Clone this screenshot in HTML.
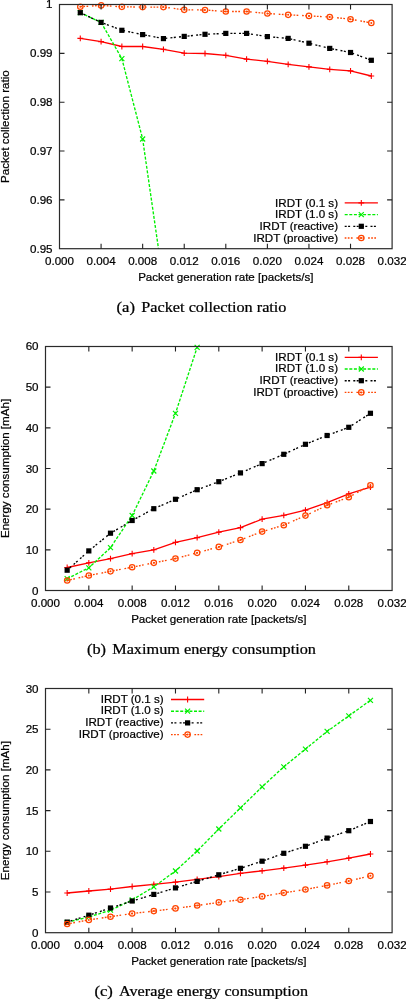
<!DOCTYPE html>
<html lang="en"><head><meta charset="utf-8"><title>IRDT evaluation figures</title>
<style>html,body{margin:0;padding:0;background:#fff}body{width:406px;height:1000px;overflow:hidden}text{fill:#000;stroke:#000;stroke-width:.22px}.cap text{stroke-width:.24px}svg{display:block;font-family:"Liberation Sans",Arial,Helvetica,sans-serif}</style>
</head><body>
<svg width="406" height="1000" viewBox="0 0 406 1000">
<rect width="406" height="1000" fill="#fff"/>
<g id="plot1">
<clipPath id="clip1"><rect x="59.5" y="4.5" width="332.6" height="244.2"/></clipPath>
<g font-size="11.6">
<text x="52.55" y="253" text-anchor="end">0.95</text>
<text x="52.55" y="204" text-anchor="end">0.96</text>
<text x="52.55" y="155" text-anchor="end">0.97</text>
<text x="52.55" y="106" text-anchor="end">0.98</text>
<text x="52.55" y="57" text-anchor="end">0.99</text>
<text x="52.55" y="8" text-anchor="end">1</text>
<text x="59.50" y="265.40" text-anchor="middle">0.000</text>
<text x="101.08" y="265.40" text-anchor="middle">0.004</text>
<text x="142.65" y="265.40" text-anchor="middle">0.008</text>
<text x="184.23" y="265.40" text-anchor="middle">0.012</text>
<text x="225.80" y="265.40" text-anchor="middle">0.016</text>
<text x="267.38" y="265.40" text-anchor="middle">0.020</text>
<text x="308.95" y="265.40" text-anchor="middle">0.024</text>
<text x="350.53" y="265.40" text-anchor="middle">0.028</text>
<text x="392.10" y="265.40" text-anchor="middle">0.032</text>
<text x="225.80" y="281.30" text-anchor="middle">Packet generation rate [packets/s]</text>
<text transform="translate(9.2 126.60) rotate(-90)" text-anchor="middle">Packet collection ratio</text>
</g>
<polyline clip-path="url(#clip1)" points="80.29,38.40 101.08,41.60 121.86,46.50 142.65,46.50 163.44,49.30 184.23,53.20 205.01,53.50 225.80,55.30 246.59,59.10 267.38,61.30 288.16,64.30 308.95,66.90 329.74,69.40 350.53,70.90 371.31,76.00" fill="none" stroke="#ff0000" stroke-width="1.35"/>
<path d="M77.39 38.40H83.19M80.29 35.50V41.30" stroke="#ff0000" stroke-width="1.1" fill="none"/>
<path d="M98.17 41.60H103.98M101.08 38.70V44.50" stroke="#ff0000" stroke-width="1.1" fill="none"/>
<path d="M118.96 46.50H124.76M121.86 43.60V49.40" stroke="#ff0000" stroke-width="1.1" fill="none"/>
<path d="M139.75 46.50H145.55M142.65 43.60V49.40" stroke="#ff0000" stroke-width="1.1" fill="none"/>
<path d="M160.54 49.30H166.34M163.44 46.40V52.20" stroke="#ff0000" stroke-width="1.1" fill="none"/>
<path d="M181.33 53.20H187.13M184.23 50.30V56.10" stroke="#ff0000" stroke-width="1.1" fill="none"/>
<path d="M202.11 53.50H207.91M205.01 50.60V56.40" stroke="#ff0000" stroke-width="1.1" fill="none"/>
<path d="M222.90 55.30H228.70M225.80 52.40V58.20" stroke="#ff0000" stroke-width="1.1" fill="none"/>
<path d="M243.69 59.10H249.49M246.59 56.20V62.00" stroke="#ff0000" stroke-width="1.1" fill="none"/>
<path d="M264.48 61.30H270.27M267.38 58.40V64.20" stroke="#ff0000" stroke-width="1.1" fill="none"/>
<path d="M285.26 64.30H291.06M288.16 61.40V67.20" stroke="#ff0000" stroke-width="1.1" fill="none"/>
<path d="M306.05 66.90H311.85M308.95 64.00V69.80" stroke="#ff0000" stroke-width="1.1" fill="none"/>
<path d="M326.84 69.40H332.64M329.74 66.50V72.30" stroke="#ff0000" stroke-width="1.1" fill="none"/>
<path d="M347.63 70.90H353.43M350.53 68.00V73.80" stroke="#ff0000" stroke-width="1.1" fill="none"/>
<path d="M368.41 76.00H374.21M371.31 73.10V78.90" stroke="#ff0000" stroke-width="1.1" fill="none"/>
<polyline clip-path="url(#clip1)" points="80.29,12.70 101.08,22.40 121.86,58.60 142.65,139.00 163.44,283.00 184.23,400.00 205.01,500.00 225.80,600.00 246.59,700.00 267.38,800.00 288.16,900.00 308.95,1000.00 329.74,1100.00 350.53,1200.00 371.31,1300.00" fill="none" stroke="#00f000" stroke-width="1.35" stroke-dasharray="3.0 1.6"/>
<path d="M77.79 10.20L82.79 15.20M77.79 15.20L82.79 10.20" stroke="#00f000" stroke-width="1.2" fill="none"/>
<path d="M98.58 19.90L103.58 24.90M98.58 24.90L103.58 19.90" stroke="#00f000" stroke-width="1.2" fill="none"/>
<path d="M119.36 56.10L124.36 61.10M119.36 61.10L124.36 56.10" stroke="#00f000" stroke-width="1.2" fill="none"/>
<path d="M140.15 136.50L145.15 141.50M140.15 141.50L145.15 136.50" stroke="#00f000" stroke-width="1.2" fill="none"/>
<polyline clip-path="url(#clip1)" points="80.29,12.70 101.08,22.40 121.86,30.30 142.65,34.60 163.44,38.60 184.23,36.40 205.01,34.30 225.80,33.40 246.59,33.40 267.38,36.60 288.16,38.40 308.95,43.20 329.74,48.40 350.53,52.50 371.31,60.30" fill="none" stroke="#000000" stroke-width="1.35" stroke-dasharray="2 1.4 2 3.2"/>
<rect x="77.69" y="10.10" width="5.2" height="5.2" fill="#000000"/>
<rect x="98.48" y="19.80" width="5.2" height="5.2" fill="#000000"/>
<rect x="119.26" y="27.70" width="5.2" height="5.2" fill="#000000"/>
<rect x="140.05" y="32.00" width="5.2" height="5.2" fill="#000000"/>
<rect x="160.84" y="36.00" width="5.2" height="5.2" fill="#000000"/>
<rect x="181.63" y="33.80" width="5.2" height="5.2" fill="#000000"/>
<rect x="202.41" y="31.70" width="5.2" height="5.2" fill="#000000"/>
<rect x="223.20" y="30.80" width="5.2" height="5.2" fill="#000000"/>
<rect x="243.99" y="30.80" width="5.2" height="5.2" fill="#000000"/>
<rect x="264.77" y="34.00" width="5.2" height="5.2" fill="#000000"/>
<rect x="285.56" y="35.80" width="5.2" height="5.2" fill="#000000"/>
<rect x="306.35" y="40.60" width="5.2" height="5.2" fill="#000000"/>
<rect x="327.14" y="45.80" width="5.2" height="5.2" fill="#000000"/>
<rect x="347.93" y="49.90" width="5.2" height="5.2" fill="#000000"/>
<rect x="368.71" y="57.70" width="5.2" height="5.2" fill="#000000"/>
<polyline clip-path="url(#clip1)" points="80.29,6.70 101.08,5.40 121.86,6.80 142.65,7.10 163.44,7.10 184.23,9.80 205.01,10.00 225.80,11.50 246.59,11.50 267.38,13.50 288.16,14.80 308.95,15.90 329.74,17.00 350.53,19.20 371.31,22.90" fill="none" stroke="#ff4500" stroke-width="1.35" stroke-dasharray="1.7 1.4 1.7 1.4 1.7 3.8"/>
<circle cx="80.29" cy="6.70" r="2.7" stroke="#ff4500" stroke-width="1.25" fill="none"/><circle cx="80.29" cy="6.70" r="1" fill="#ff4500"/>
<circle cx="101.08" cy="5.40" r="2.7" stroke="#ff4500" stroke-width="1.25" fill="none"/><circle cx="101.08" cy="5.40" r="1" fill="#ff4500"/>
<circle cx="121.86" cy="6.80" r="2.7" stroke="#ff4500" stroke-width="1.25" fill="none"/><circle cx="121.86" cy="6.80" r="1" fill="#ff4500"/>
<circle cx="142.65" cy="7.10" r="2.7" stroke="#ff4500" stroke-width="1.25" fill="none"/><circle cx="142.65" cy="7.10" r="1" fill="#ff4500"/>
<circle cx="163.44" cy="7.10" r="2.7" stroke="#ff4500" stroke-width="1.25" fill="none"/><circle cx="163.44" cy="7.10" r="1" fill="#ff4500"/>
<circle cx="184.23" cy="9.80" r="2.7" stroke="#ff4500" stroke-width="1.25" fill="none"/><circle cx="184.23" cy="9.80" r="1" fill="#ff4500"/>
<circle cx="205.01" cy="10.00" r="2.7" stroke="#ff4500" stroke-width="1.25" fill="none"/><circle cx="205.01" cy="10.00" r="1" fill="#ff4500"/>
<circle cx="225.80" cy="11.50" r="2.7" stroke="#ff4500" stroke-width="1.25" fill="none"/><circle cx="225.80" cy="11.50" r="1" fill="#ff4500"/>
<circle cx="246.59" cy="11.50" r="2.7" stroke="#ff4500" stroke-width="1.25" fill="none"/><circle cx="246.59" cy="11.50" r="1" fill="#ff4500"/>
<circle cx="267.38" cy="13.50" r="2.7" stroke="#ff4500" stroke-width="1.25" fill="none"/><circle cx="267.38" cy="13.50" r="1" fill="#ff4500"/>
<circle cx="288.16" cy="14.80" r="2.7" stroke="#ff4500" stroke-width="1.25" fill="none"/><circle cx="288.16" cy="14.80" r="1" fill="#ff4500"/>
<circle cx="308.95" cy="15.90" r="2.7" stroke="#ff4500" stroke-width="1.25" fill="none"/><circle cx="308.95" cy="15.90" r="1" fill="#ff4500"/>
<circle cx="329.74" cy="17.00" r="2.7" stroke="#ff4500" stroke-width="1.25" fill="none"/><circle cx="329.74" cy="17.00" r="1" fill="#ff4500"/>
<circle cx="350.53" cy="19.20" r="2.7" stroke="#ff4500" stroke-width="1.25" fill="none"/><circle cx="350.53" cy="19.20" r="1" fill="#ff4500"/>
<circle cx="371.31" cy="22.90" r="2.7" stroke="#ff4500" stroke-width="1.25" fill="none"/><circle cx="371.31" cy="22.90" r="1" fill="#ff4500"/>
<rect x="59.5" y="4.5" width="332.6" height="244.2" fill="none" stroke="#2a2a2a" stroke-width="1.2"/>
<path d="M101.08 248.7v-5M101.08 4.5v5M142.65 248.7v-5M142.65 4.5v5M184.23 248.7v-5M184.23 4.5v5M225.80 248.7v-5M225.80 4.5v5M267.38 248.7v-5M267.38 4.5v5M308.95 248.7v-5M308.95 4.5v5M350.53 248.7v-5M350.53 4.5v5M59.5 199.86h5M392.1 199.86h-5M59.5 151.02h5M392.1 151.02h-5M59.5 102.18h5M392.1 102.18h-5M59.5 53.34h5M392.1 53.34h-5" stroke="#222" stroke-width="1.1" fill="none"/>
<g font-size="11.6">
<text x="338" y="207" text-anchor="end">IRDT (0.1 s)</text>
<path d="M344.7 202.90h33.2" stroke="#ff0000" stroke-width="1.35" fill="none"/>
<path d="M358.40 202.90H364.20M361.30 200.00V205.80" stroke="#ff0000" stroke-width="1.1" fill="none"/>
<text x="338" y="218" text-anchor="end">IRDT (1.0 s)</text>
<path d="M344.7 214.60h33.2" stroke="#00f000" stroke-width="1.35" fill="none" stroke-dasharray="3.0 1.6"/>
<path d="M358.80 212.10L363.80 217.10M358.80 217.10L363.80 212.10" stroke="#00f000" stroke-width="1.2" fill="none"/>
<text x="338" y="230" text-anchor="end">IRDT (reactive)</text>
<path d="M344.7 226.30h33.2" stroke="#000000" stroke-width="1.35" fill="none" stroke-dasharray="2 1.4 2 3.2"/>
<rect x="358.70" y="223.70" width="5.2" height="5.2" fill="#000000"/>
<text x="338" y="242" text-anchor="end">IRDT (proactive)</text>
<path d="M344.7 238.00h33.2" stroke="#ff4500" stroke-width="1.35" fill="none" stroke-dasharray="1.7 1.4 1.7 1.4 1.7 3.8"/>
<circle cx="361.30" cy="238.00" r="2.7" stroke="#ff4500" stroke-width="1.25" fill="none"/><circle cx="361.30" cy="238.00" r="1" fill="#ff4500"/>
</g>
<g class="cap" font-family="'Liberation Serif','Times New Roman',serif" font-size="15"><text x="116.6" y="312.4" textLength="18.4" lengthAdjust="spacingAndGlyphs">(a)</text><text x="141.3" y="312.4" textLength="145.2" lengthAdjust="spacingAndGlyphs">Packet collection ratio</text></g>
</g>
<g id="plot2">
<clipPath id="clip2"><rect x="45.5" y="346.5" width="346.6" height="244.0"/></clipPath>
<g font-size="11.6">
<text x="38.55" y="595" text-anchor="end">0</text>
<text x="38.55" y="554" text-anchor="end">10</text>
<text x="38.55" y="513" text-anchor="end">20</text>
<text x="38.55" y="473" text-anchor="end">30</text>
<text x="38.55" y="432" text-anchor="end">40</text>
<text x="38.55" y="391" text-anchor="end">50</text>
<text x="38.55" y="350" text-anchor="end">60</text>
<text x="45.50" y="607.20" text-anchor="middle">0.000</text>
<text x="88.83" y="607.20" text-anchor="middle">0.004</text>
<text x="132.15" y="607.20" text-anchor="middle">0.008</text>
<text x="175.48" y="607.20" text-anchor="middle">0.012</text>
<text x="218.80" y="607.20" text-anchor="middle">0.016</text>
<text x="262.12" y="607.20" text-anchor="middle">0.020</text>
<text x="305.45" y="607.20" text-anchor="middle">0.024</text>
<text x="348.78" y="607.20" text-anchor="middle">0.028</text>
<text x="392.10" y="607.20" text-anchor="middle">0.032</text>
<text x="218.80" y="623.10" text-anchor="middle">Packet generation rate [packets/s]</text>
<text transform="translate(9.0 468.50) rotate(-90)" text-anchor="middle">Energy consumption [mAh]</text>
</g>
<polyline clip-path="url(#clip2)" points="67.16,567.50 88.83,562.80 110.49,558.60 132.15,553.60 153.81,549.80 175.48,542.40 197.14,537.60 218.80,532.10 240.46,527.60 262.12,519.20 283.79,515.30 305.45,510.10 327.11,502.70 348.78,493.80 370.44,487.20" fill="none" stroke="#ff0000" stroke-width="1.35"/>
<path d="M64.26 567.50H70.06M67.16 564.60V570.40" stroke="#ff0000" stroke-width="1.1" fill="none"/>
<path d="M85.92 562.80H91.73M88.83 559.90V565.70" stroke="#ff0000" stroke-width="1.1" fill="none"/>
<path d="M107.59 558.60H113.39M110.49 555.70V561.50" stroke="#ff0000" stroke-width="1.1" fill="none"/>
<path d="M129.25 553.60H135.05M132.15 550.70V556.50" stroke="#ff0000" stroke-width="1.1" fill="none"/>
<path d="M150.91 549.80H156.71M153.81 546.90V552.70" stroke="#ff0000" stroke-width="1.1" fill="none"/>
<path d="M172.58 542.40H178.38M175.48 539.50V545.30" stroke="#ff0000" stroke-width="1.1" fill="none"/>
<path d="M194.24 537.60H200.04M197.14 534.70V540.50" stroke="#ff0000" stroke-width="1.1" fill="none"/>
<path d="M215.90 532.10H221.70M218.80 529.20V535.00" stroke="#ff0000" stroke-width="1.1" fill="none"/>
<path d="M237.56 527.60H243.36M240.46 524.70V530.50" stroke="#ff0000" stroke-width="1.1" fill="none"/>
<path d="M259.23 519.20H265.02M262.12 516.30V522.10" stroke="#ff0000" stroke-width="1.1" fill="none"/>
<path d="M280.89 515.30H286.69M283.79 512.40V518.20" stroke="#ff0000" stroke-width="1.1" fill="none"/>
<path d="M302.55 510.10H308.35M305.45 507.20V513.00" stroke="#ff0000" stroke-width="1.1" fill="none"/>
<path d="M324.21 502.70H330.01M327.11 499.80V505.60" stroke="#ff0000" stroke-width="1.1" fill="none"/>
<path d="M345.88 493.80H351.68M348.78 490.90V496.70" stroke="#ff0000" stroke-width="1.1" fill="none"/>
<path d="M367.54 487.20H373.34M370.44 484.30V490.10" stroke="#ff0000" stroke-width="1.1" fill="none"/>
<polyline clip-path="url(#clip2)" points="67.16,578.70 88.83,567.80 110.49,547.70 132.15,515.50 153.81,471.00 175.48,413.30 197.14,347.40 218.80,280.00 240.46,200.00 262.12,100.00 283.79,0.00 305.45,-100.00 327.11,-200.00 348.78,-300.00 370.44,-400.00" fill="none" stroke="#00f000" stroke-width="1.35" stroke-dasharray="3.0 1.6"/>
<path d="M64.66 576.20L69.66 581.20M64.66 581.20L69.66 576.20" stroke="#00f000" stroke-width="1.2" fill="none"/>
<path d="M86.33 565.30L91.33 570.30M86.33 570.30L91.33 565.30" stroke="#00f000" stroke-width="1.2" fill="none"/>
<path d="M107.99 545.20L112.99 550.20M107.99 550.20L112.99 545.20" stroke="#00f000" stroke-width="1.2" fill="none"/>
<path d="M129.65 513.00L134.65 518.00M129.65 518.00L134.65 513.00" stroke="#00f000" stroke-width="1.2" fill="none"/>
<path d="M151.31 468.50L156.31 473.50M151.31 473.50L156.31 468.50" stroke="#00f000" stroke-width="1.2" fill="none"/>
<path d="M172.98 410.80L177.98 415.80M172.98 415.80L177.98 410.80" stroke="#00f000" stroke-width="1.2" fill="none"/>
<path d="M194.64 344.90L199.64 349.90M194.64 349.90L199.64 344.90" stroke="#00f000" stroke-width="1.2" fill="none"/>
<polyline clip-path="url(#clip2)" points="67.16,570.20 88.83,550.90 110.49,533.20 132.15,520.50 153.81,508.70 175.48,499.30 197.14,489.70 218.80,481.70 240.46,472.90 262.12,463.60 283.79,454.30 305.45,444.30 327.11,435.50 348.78,427.30 370.44,413.30" fill="none" stroke="#000000" stroke-width="1.35" stroke-dasharray="2 1.4 2 3.2"/>
<rect x="64.56" y="567.60" width="5.2" height="5.2" fill="#000000"/>
<rect x="86.23" y="548.30" width="5.2" height="5.2" fill="#000000"/>
<rect x="107.89" y="530.60" width="5.2" height="5.2" fill="#000000"/>
<rect x="129.55" y="517.90" width="5.2" height="5.2" fill="#000000"/>
<rect x="151.21" y="506.10" width="5.2" height="5.2" fill="#000000"/>
<rect x="172.88" y="496.70" width="5.2" height="5.2" fill="#000000"/>
<rect x="194.54" y="487.10" width="5.2" height="5.2" fill="#000000"/>
<rect x="216.20" y="479.10" width="5.2" height="5.2" fill="#000000"/>
<rect x="237.86" y="470.30" width="5.2" height="5.2" fill="#000000"/>
<rect x="259.52" y="461.00" width="5.2" height="5.2" fill="#000000"/>
<rect x="281.19" y="451.70" width="5.2" height="5.2" fill="#000000"/>
<rect x="302.85" y="441.70" width="5.2" height="5.2" fill="#000000"/>
<rect x="324.51" y="432.90" width="5.2" height="5.2" fill="#000000"/>
<rect x="346.18" y="424.70" width="5.2" height="5.2" fill="#000000"/>
<rect x="367.84" y="410.70" width="5.2" height="5.2" fill="#000000"/>
<polyline clip-path="url(#clip2)" points="67.16,580.50 88.83,575.50 110.49,571.30 132.15,567.20 153.81,562.80 175.48,558.60 197.14,552.80 218.80,546.90 240.46,540.00 262.12,531.60 283.79,525.20 305.45,515.60 327.11,505.30 348.78,497.20 370.44,485.30" fill="none" stroke="#ff4500" stroke-width="1.35" stroke-dasharray="1.7 1.4 1.7 1.4 1.7 3.8"/>
<circle cx="67.16" cy="580.50" r="2.7" stroke="#ff4500" stroke-width="1.25" fill="none"/><circle cx="67.16" cy="580.50" r="1" fill="#ff4500"/>
<circle cx="88.83" cy="575.50" r="2.7" stroke="#ff4500" stroke-width="1.25" fill="none"/><circle cx="88.83" cy="575.50" r="1" fill="#ff4500"/>
<circle cx="110.49" cy="571.30" r="2.7" stroke="#ff4500" stroke-width="1.25" fill="none"/><circle cx="110.49" cy="571.30" r="1" fill="#ff4500"/>
<circle cx="132.15" cy="567.20" r="2.7" stroke="#ff4500" stroke-width="1.25" fill="none"/><circle cx="132.15" cy="567.20" r="1" fill="#ff4500"/>
<circle cx="153.81" cy="562.80" r="2.7" stroke="#ff4500" stroke-width="1.25" fill="none"/><circle cx="153.81" cy="562.80" r="1" fill="#ff4500"/>
<circle cx="175.48" cy="558.60" r="2.7" stroke="#ff4500" stroke-width="1.25" fill="none"/><circle cx="175.48" cy="558.60" r="1" fill="#ff4500"/>
<circle cx="197.14" cy="552.80" r="2.7" stroke="#ff4500" stroke-width="1.25" fill="none"/><circle cx="197.14" cy="552.80" r="1" fill="#ff4500"/>
<circle cx="218.80" cy="546.90" r="2.7" stroke="#ff4500" stroke-width="1.25" fill="none"/><circle cx="218.80" cy="546.90" r="1" fill="#ff4500"/>
<circle cx="240.46" cy="540.00" r="2.7" stroke="#ff4500" stroke-width="1.25" fill="none"/><circle cx="240.46" cy="540.00" r="1" fill="#ff4500"/>
<circle cx="262.12" cy="531.60" r="2.7" stroke="#ff4500" stroke-width="1.25" fill="none"/><circle cx="262.12" cy="531.60" r="1" fill="#ff4500"/>
<circle cx="283.79" cy="525.20" r="2.7" stroke="#ff4500" stroke-width="1.25" fill="none"/><circle cx="283.79" cy="525.20" r="1" fill="#ff4500"/>
<circle cx="305.45" cy="515.60" r="2.7" stroke="#ff4500" stroke-width="1.25" fill="none"/><circle cx="305.45" cy="515.60" r="1" fill="#ff4500"/>
<circle cx="327.11" cy="505.30" r="2.7" stroke="#ff4500" stroke-width="1.25" fill="none"/><circle cx="327.11" cy="505.30" r="1" fill="#ff4500"/>
<circle cx="348.78" cy="497.20" r="2.7" stroke="#ff4500" stroke-width="1.25" fill="none"/><circle cx="348.78" cy="497.20" r="1" fill="#ff4500"/>
<circle cx="370.44" cy="485.30" r="2.7" stroke="#ff4500" stroke-width="1.25" fill="none"/><circle cx="370.44" cy="485.30" r="1" fill="#ff4500"/>
<rect x="45.5" y="346.5" width="346.6" height="244.0" fill="none" stroke="#2a2a2a" stroke-width="1.2"/>
<path d="M88.83 590.5v-5M88.83 346.5v5M132.15 590.5v-5M132.15 346.5v5M175.48 590.5v-5M175.48 346.5v5M218.80 590.5v-5M218.80 346.5v5M262.12 590.5v-5M262.12 346.5v5M305.45 590.5v-5M305.45 346.5v5M348.78 590.5v-5M348.78 346.5v5M45.5 549.83h5M392.1 549.83h-5M45.5 509.17h5M392.1 509.17h-5M45.5 468.50h5M392.1 468.50h-5M45.5 427.83h5M392.1 427.83h-5M45.5 387.17h5M392.1 387.17h-5" stroke="#222" stroke-width="1.1" fill="none"/>
<g font-size="11.6">
<text x="338" y="361" text-anchor="end">IRDT (0.1 s)</text>
<path d="M344.7 357.30h33.2" stroke="#ff0000" stroke-width="1.35" fill="none"/>
<path d="M358.40 357.30H364.20M361.30 354.40V360.20" stroke="#ff0000" stroke-width="1.1" fill="none"/>
<text x="338" y="372" text-anchor="end">IRDT (1.0 s)</text>
<path d="M344.7 369.00h33.2" stroke="#00f000" stroke-width="1.35" fill="none" stroke-dasharray="3.0 1.6"/>
<path d="M358.80 366.50L363.80 371.50M358.80 371.50L363.80 366.50" stroke="#00f000" stroke-width="1.2" fill="none"/>
<text x="338" y="384" text-anchor="end">IRDT (reactive)</text>
<path d="M344.7 380.70h33.2" stroke="#000000" stroke-width="1.35" fill="none" stroke-dasharray="2 1.4 2 3.2"/>
<rect x="358.70" y="378.10" width="5.2" height="5.2" fill="#000000"/>
<text x="338" y="396" text-anchor="end">IRDT (proactive)</text>
<path d="M344.7 392.40h33.2" stroke="#ff4500" stroke-width="1.35" fill="none" stroke-dasharray="1.7 1.4 1.7 1.4 1.7 3.8"/>
<circle cx="361.30" cy="392.40" r="2.7" stroke="#ff4500" stroke-width="1.25" fill="none"/><circle cx="361.30" cy="392.40" r="1" fill="#ff4500"/>
</g>
<g class="cap" font-family="'Liberation Serif','Times New Roman',serif" font-size="15"><text x="87.0" y="653.9" textLength="19.0" lengthAdjust="spacingAndGlyphs">(b)</text><text x="112.2" y="653.9" textLength="203.8" lengthAdjust="spacingAndGlyphs">Maximum energy consumption</text></g>
</g>
<g id="plot3">
<clipPath id="clip3"><rect x="45.5" y="688.5" width="346.6" height="244.20000000000005"/></clipPath>
<g font-size="11.6">
<text x="38.55" y="937" text-anchor="end">0</text>
<text x="38.55" y="896" text-anchor="end">5</text>
<text x="38.55" y="855" text-anchor="end">10</text>
<text x="38.55" y="815" text-anchor="end">15</text>
<text x="38.55" y="774" text-anchor="end">20</text>
<text x="38.55" y="733" text-anchor="end">25</text>
<text x="38.55" y="693" text-anchor="end">30</text>
<text x="45.50" y="949.40" text-anchor="middle">0.000</text>
<text x="88.83" y="949.40" text-anchor="middle">0.004</text>
<text x="132.15" y="949.40" text-anchor="middle">0.008</text>
<text x="175.48" y="949.40" text-anchor="middle">0.012</text>
<text x="218.80" y="949.40" text-anchor="middle">0.016</text>
<text x="262.12" y="949.40" text-anchor="middle">0.020</text>
<text x="305.45" y="949.40" text-anchor="middle">0.024</text>
<text x="348.78" y="949.40" text-anchor="middle">0.028</text>
<text x="392.10" y="949.40" text-anchor="middle">0.032</text>
<text x="218.80" y="965.30" text-anchor="middle">Packet generation rate [packets/s]</text>
<text transform="translate(9.0 810.60) rotate(-90)" text-anchor="middle">Energy consumption [mAh]</text>
</g>
<polyline clip-path="url(#clip3)" points="67.16,893.00 88.83,891.00 110.49,889.10 132.15,886.50 153.81,884.30 175.48,882.10 197.14,879.30 218.80,876.60 240.46,873.40 262.12,870.80 283.79,868.10 305.45,865.10 327.11,861.80 348.78,858.10 370.44,854.00" fill="none" stroke="#ff0000" stroke-width="1.35"/>
<path d="M64.26 893.00H70.06M67.16 890.10V895.90" stroke="#ff0000" stroke-width="1.1" fill="none"/>
<path d="M85.92 891.00H91.73M88.83 888.10V893.90" stroke="#ff0000" stroke-width="1.1" fill="none"/>
<path d="M107.59 889.10H113.39M110.49 886.20V892.00" stroke="#ff0000" stroke-width="1.1" fill="none"/>
<path d="M129.25 886.50H135.05M132.15 883.60V889.40" stroke="#ff0000" stroke-width="1.1" fill="none"/>
<path d="M150.91 884.30H156.71M153.81 881.40V887.20" stroke="#ff0000" stroke-width="1.1" fill="none"/>
<path d="M172.58 882.10H178.38M175.48 879.20V885.00" stroke="#ff0000" stroke-width="1.1" fill="none"/>
<path d="M194.24 879.30H200.04M197.14 876.40V882.20" stroke="#ff0000" stroke-width="1.1" fill="none"/>
<path d="M215.90 876.60H221.70M218.80 873.70V879.50" stroke="#ff0000" stroke-width="1.1" fill="none"/>
<path d="M237.56 873.40H243.36M240.46 870.50V876.30" stroke="#ff0000" stroke-width="1.1" fill="none"/>
<path d="M259.23 870.80H265.02M262.12 867.90V873.70" stroke="#ff0000" stroke-width="1.1" fill="none"/>
<path d="M280.89 868.10H286.69M283.79 865.20V871.00" stroke="#ff0000" stroke-width="1.1" fill="none"/>
<path d="M302.55 865.10H308.35M305.45 862.20V868.00" stroke="#ff0000" stroke-width="1.1" fill="none"/>
<path d="M324.21 861.80H330.01M327.11 858.90V864.70" stroke="#ff0000" stroke-width="1.1" fill="none"/>
<path d="M345.88 858.10H351.68M348.78 855.20V861.00" stroke="#ff0000" stroke-width="1.1" fill="none"/>
<path d="M367.54 854.00H373.34M370.44 851.10V856.90" stroke="#ff0000" stroke-width="1.1" fill="none"/>
<polyline clip-path="url(#clip3)" points="67.16,922.30 88.83,917.00 110.49,910.20 132.15,900.00 153.81,886.80 175.48,871.00 197.14,851.00 218.80,829.00 240.46,807.90 262.12,786.80 283.79,766.80 305.45,749.10 327.11,731.40 348.78,715.90 370.44,700.30" fill="none" stroke="#00f000" stroke-width="1.35" stroke-dasharray="3.0 1.6"/>
<path d="M64.66 919.80L69.66 924.80M64.66 924.80L69.66 919.80" stroke="#00f000" stroke-width="1.2" fill="none"/>
<path d="M86.33 914.50L91.33 919.50M86.33 919.50L91.33 914.50" stroke="#00f000" stroke-width="1.2" fill="none"/>
<path d="M107.99 907.70L112.99 912.70M107.99 912.70L112.99 907.70" stroke="#00f000" stroke-width="1.2" fill="none"/>
<path d="M129.65 897.50L134.65 902.50M129.65 902.50L134.65 897.50" stroke="#00f000" stroke-width="1.2" fill="none"/>
<path d="M151.31 884.30L156.31 889.30M151.31 889.30L156.31 884.30" stroke="#00f000" stroke-width="1.2" fill="none"/>
<path d="M172.98 868.50L177.98 873.50M172.98 873.50L177.98 868.50" stroke="#00f000" stroke-width="1.2" fill="none"/>
<path d="M194.64 848.50L199.64 853.50M194.64 853.50L199.64 848.50" stroke="#00f000" stroke-width="1.2" fill="none"/>
<path d="M216.30 826.50L221.30 831.50M216.30 831.50L221.30 826.50" stroke="#00f000" stroke-width="1.2" fill="none"/>
<path d="M237.96 805.40L242.96 810.40M237.96 810.40L242.96 805.40" stroke="#00f000" stroke-width="1.2" fill="none"/>
<path d="M259.62 784.30L264.62 789.30M259.62 789.30L264.62 784.30" stroke="#00f000" stroke-width="1.2" fill="none"/>
<path d="M281.29 764.30L286.29 769.30M281.29 769.30L286.29 764.30" stroke="#00f000" stroke-width="1.2" fill="none"/>
<path d="M302.95 746.60L307.95 751.60M302.95 751.60L307.95 746.60" stroke="#00f000" stroke-width="1.2" fill="none"/>
<path d="M324.61 728.90L329.61 733.90M324.61 733.90L329.61 728.90" stroke="#00f000" stroke-width="1.2" fill="none"/>
<path d="M346.28 713.40L351.28 718.40M346.28 718.40L351.28 713.40" stroke="#00f000" stroke-width="1.2" fill="none"/>
<path d="M367.94 697.80L372.94 702.80M367.94 702.80L372.94 697.80" stroke="#00f000" stroke-width="1.2" fill="none"/>
<polyline clip-path="url(#clip3)" points="67.16,922.10 88.83,915.20 110.49,908.00 132.15,901.00 153.81,894.40 175.48,887.90 197.14,881.40 218.80,874.80 240.46,868.30 262.12,861.20 283.79,853.30 305.45,846.30 327.11,838.10 348.78,830.70 370.44,821.50" fill="none" stroke="#000000" stroke-width="1.35" stroke-dasharray="2 1.4 2 3.2"/>
<rect x="64.56" y="919.50" width="5.2" height="5.2" fill="#000000"/>
<rect x="86.23" y="912.60" width="5.2" height="5.2" fill="#000000"/>
<rect x="107.89" y="905.40" width="5.2" height="5.2" fill="#000000"/>
<rect x="129.55" y="898.40" width="5.2" height="5.2" fill="#000000"/>
<rect x="151.21" y="891.80" width="5.2" height="5.2" fill="#000000"/>
<rect x="172.88" y="885.30" width="5.2" height="5.2" fill="#000000"/>
<rect x="194.54" y="878.80" width="5.2" height="5.2" fill="#000000"/>
<rect x="216.20" y="872.20" width="5.2" height="5.2" fill="#000000"/>
<rect x="237.86" y="865.70" width="5.2" height="5.2" fill="#000000"/>
<rect x="259.52" y="858.60" width="5.2" height="5.2" fill="#000000"/>
<rect x="281.19" y="850.70" width="5.2" height="5.2" fill="#000000"/>
<rect x="302.85" y="843.70" width="5.2" height="5.2" fill="#000000"/>
<rect x="324.51" y="835.50" width="5.2" height="5.2" fill="#000000"/>
<rect x="346.18" y="828.10" width="5.2" height="5.2" fill="#000000"/>
<rect x="367.84" y="818.90" width="5.2" height="5.2" fill="#000000"/>
<polyline clip-path="url(#clip3)" points="67.16,924.00 88.83,919.90 110.49,916.70 132.15,913.50 153.81,911.10 175.48,908.40 197.14,905.50 218.80,902.40 240.46,899.70 262.12,896.40 283.79,892.80 305.45,889.50 327.11,885.40 348.78,881.00 370.44,875.80" fill="none" stroke="#ff4500" stroke-width="1.35" stroke-dasharray="1.7 1.4 1.7 1.4 1.7 3.8"/>
<circle cx="67.16" cy="924.00" r="2.7" stroke="#ff4500" stroke-width="1.25" fill="none"/><circle cx="67.16" cy="924.00" r="1" fill="#ff4500"/>
<circle cx="88.83" cy="919.90" r="2.7" stroke="#ff4500" stroke-width="1.25" fill="none"/><circle cx="88.83" cy="919.90" r="1" fill="#ff4500"/>
<circle cx="110.49" cy="916.70" r="2.7" stroke="#ff4500" stroke-width="1.25" fill="none"/><circle cx="110.49" cy="916.70" r="1" fill="#ff4500"/>
<circle cx="132.15" cy="913.50" r="2.7" stroke="#ff4500" stroke-width="1.25" fill="none"/><circle cx="132.15" cy="913.50" r="1" fill="#ff4500"/>
<circle cx="153.81" cy="911.10" r="2.7" stroke="#ff4500" stroke-width="1.25" fill="none"/><circle cx="153.81" cy="911.10" r="1" fill="#ff4500"/>
<circle cx="175.48" cy="908.40" r="2.7" stroke="#ff4500" stroke-width="1.25" fill="none"/><circle cx="175.48" cy="908.40" r="1" fill="#ff4500"/>
<circle cx="197.14" cy="905.50" r="2.7" stroke="#ff4500" stroke-width="1.25" fill="none"/><circle cx="197.14" cy="905.50" r="1" fill="#ff4500"/>
<circle cx="218.80" cy="902.40" r="2.7" stroke="#ff4500" stroke-width="1.25" fill="none"/><circle cx="218.80" cy="902.40" r="1" fill="#ff4500"/>
<circle cx="240.46" cy="899.70" r="2.7" stroke="#ff4500" stroke-width="1.25" fill="none"/><circle cx="240.46" cy="899.70" r="1" fill="#ff4500"/>
<circle cx="262.12" cy="896.40" r="2.7" stroke="#ff4500" stroke-width="1.25" fill="none"/><circle cx="262.12" cy="896.40" r="1" fill="#ff4500"/>
<circle cx="283.79" cy="892.80" r="2.7" stroke="#ff4500" stroke-width="1.25" fill="none"/><circle cx="283.79" cy="892.80" r="1" fill="#ff4500"/>
<circle cx="305.45" cy="889.50" r="2.7" stroke="#ff4500" stroke-width="1.25" fill="none"/><circle cx="305.45" cy="889.50" r="1" fill="#ff4500"/>
<circle cx="327.11" cy="885.40" r="2.7" stroke="#ff4500" stroke-width="1.25" fill="none"/><circle cx="327.11" cy="885.40" r="1" fill="#ff4500"/>
<circle cx="348.78" cy="881.00" r="2.7" stroke="#ff4500" stroke-width="1.25" fill="none"/><circle cx="348.78" cy="881.00" r="1" fill="#ff4500"/>
<circle cx="370.44" cy="875.80" r="2.7" stroke="#ff4500" stroke-width="1.25" fill="none"/><circle cx="370.44" cy="875.80" r="1" fill="#ff4500"/>
<rect x="45.5" y="688.5" width="346.6" height="244.20000000000005" fill="none" stroke="#2a2a2a" stroke-width="1.2"/>
<path d="M88.83 932.7v-5M88.83 688.5v5M132.15 932.7v-5M132.15 688.5v5M175.48 932.7v-5M175.48 688.5v5M218.80 932.7v-5M218.80 688.5v5M262.12 932.7v-5M262.12 688.5v5M305.45 932.7v-5M305.45 688.5v5M348.78 932.7v-5M348.78 688.5v5M45.5 892.00h5M392.1 892.00h-5M45.5 851.30h5M392.1 851.30h-5M45.5 810.60h5M392.1 810.60h-5M45.5 769.90h5M392.1 769.90h-5M45.5 729.20h5M392.1 729.20h-5" stroke="#222" stroke-width="1.1" fill="none"/>
<g font-size="11.6">
<text x="163.6" y="703" text-anchor="end">IRDT (0.1 s)</text>
<path d="M171 699.50h33.2" stroke="#ff0000" stroke-width="1.35" fill="none"/>
<path d="M184.70 699.50H190.50M187.60 696.60V702.40" stroke="#ff0000" stroke-width="1.1" fill="none"/>
<text x="163.6" y="714" text-anchor="end">IRDT (1.0 s)</text>
<path d="M171 711.20h33.2" stroke="#00f000" stroke-width="1.35" fill="none" stroke-dasharray="3.0 1.6"/>
<path d="M185.10 708.70L190.10 713.70M185.10 713.70L190.10 708.70" stroke="#00f000" stroke-width="1.2" fill="none"/>
<text x="163.6" y="726" text-anchor="end">IRDT (reactive)</text>
<path d="M171 722.90h33.2" stroke="#000000" stroke-width="1.35" fill="none" stroke-dasharray="2 1.4 2 3.2"/>
<rect x="185.00" y="720.30" width="5.2" height="5.2" fill="#000000"/>
<text x="163.6" y="738" text-anchor="end">IRDT (proactive)</text>
<path d="M171 734.60h33.2" stroke="#ff4500" stroke-width="1.35" fill="none" stroke-dasharray="1.7 1.4 1.7 1.4 1.7 3.8"/>
<circle cx="187.60" cy="734.60" r="2.7" stroke="#ff4500" stroke-width="1.25" fill="none"/><circle cx="187.60" cy="734.60" r="1" fill="#ff4500"/>
</g>
<g class="cap" font-family="'Liberation Serif','Times New Roman',serif" font-size="15"><text x="94.5" y="996" textLength="18.4" lengthAdjust="spacingAndGlyphs">(c)</text><text x="119.0" y="996" textLength="189.0" lengthAdjust="spacingAndGlyphs">Average energy consumption</text></g>
</g>
</svg></body></html>
